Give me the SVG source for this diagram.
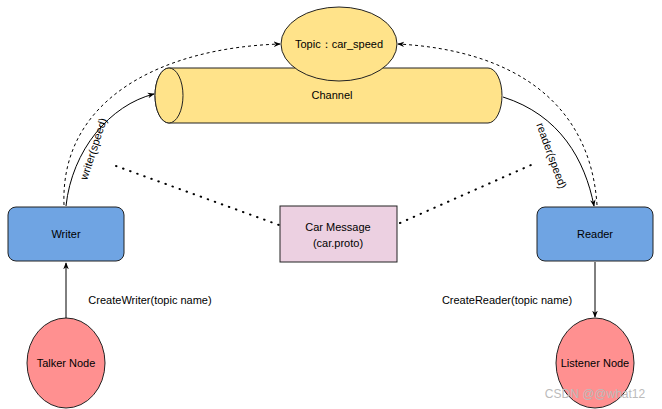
<svg xmlns="http://www.w3.org/2000/svg" width="662" height="409" viewBox="0 0 662 409">
<style>
text{font-family:"Liberation Sans",Arial,sans-serif;font-size:11px;fill:#000;text-anchor:middle}
.s{stroke:#222;stroke-width:1;}
.c{fill:none;stroke:#000;stroke-width:1}
.d{fill:none;stroke:#000;stroke-width:1;stroke-dasharray:3 3}
.o{fill:none;stroke:#000;stroke-width:2;stroke-dasharray:0.5 7;stroke-linecap:round}
</style>
<defs>
<marker id="a" viewBox="0 0 10 10" refX="9" refY="5" markerWidth="7" markerHeight="7" orient="auto"><path d="M0,1 L10,5 L0,9 L3,5 Z" fill="#000"/></marker>
</defs>
<rect width="662" height="409" fill="#fff"/>
<g id="channel">
<path class="s" d="M169,68 H488 A14,27.5 0 0 1 488,123 H169 A14,27.5 0 0 1 169,68 Z" fill="#ffe38a"/>
<ellipse class="s" cx="169" cy="95.5" rx="14" ry="27.5" fill="#ffe38a"/>
<text x="332" y="99">Channel</text>
</g>
<g id="topic">
<ellipse class="s" cx="339" cy="44" rx="58" ry="37" fill="#ffe38a"/>
<text x="339" y="48">Topic：car_speed</text>
</g>
<g id="writer">
<rect class="s" x="8" y="207" width="116" height="54" rx="8" fill="#6fa4e3"/>
<text x="66" y="238">Writer</text>
</g>
<g id="reader">
<rect class="s" x="537" y="207" width="116" height="54" rx="8" fill="#6fa4e3"/>
<text x="595" y="238">Reader</text>
</g>
<g id="message">
<rect class="s" x="280" y="206" width="117" height="56" fill="#ecd0e1"/>
<text x="338" y="231">Car Message</text>
<text x="338" y="247">(car.proto)</text>
</g>
<g id="talker">
<ellipse class="s" cx="66" cy="363" rx="39" ry="45" fill="#ff9090"/>
<text x="66" y="367">Talker Node</text>
</g>
<g id="listener">
<ellipse class="s" cx="595" cy="363" rx="39" ry="45" fill="#ff9090"/>
<text x="595" y="367">Listener Node</text>
</g>
<g id="connectors">
<path class="c" d="M66,206 C72,150 110,105 154,94" marker-end="url(#a)"/>
<path class="d" d="M64,205 C60,100 160,48 280,44" marker-end="url(#a)"/>
<path class="c" d="M503,97 C560,115 585,160 594,206" marker-end="url(#a)"/>
<path class="d" d="M597,205 C590,100 510,50 398,44" marker-end="url(#a)"/>
<path class="o" d="M116,166 L279,225"/>
<path class="o" d="M400,223 L531,165"/>
<path class="c" d="M66,318 V263" marker-end="url(#a)"/>
<path class="c" d="M595,262 V317" marker-end="url(#a)"/>
<text x="150" y="304">CreateWriter(topic name)</text>
<text x="507" y="304">CreateReader(topic name)</text>
<text transform="translate(97,150) rotate(-72)">writer(speed)</text>
<text transform="translate(548,157) rotate(70)">reader(speed)</text>
</g>
<text x="595" y="398" style="fill:#bbb;font-size:12px">CSDN @@what12</text>
</svg>
